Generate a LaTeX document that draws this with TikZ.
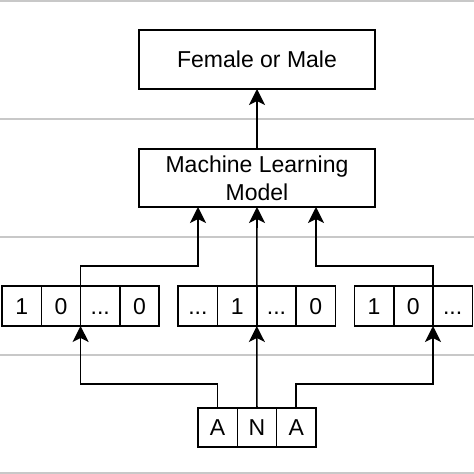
\documentclass[tikz,border=0pt]{standalone}
\usepackage{fontspec}
\setmainfont{Liberation Sans}
\usepackage{tikz}
\usetikzlibrary{arrows.meta, positioning, calc}
\definecolor{cRule}{RGB}{200,200,200}
\tikzset{
	blk/.style ={rectangle, draw=black, line width=1.6pt, minimum width=236pt, minimum height=58pt, align=center, outer sep=0pt, font=\fontsize{23}{28}\selectfont},
	cell/.style={rectangle, draw=black, line width=1.6pt, minimum width=39.3pt, minimum height=40pt, inner sep=0pt, outer sep=0pt, text height=16.5pt, text depth=0pt, font=\fontsize{23}{27}\selectfont},
	sig/.style ={-{Stealth[length=16pt, width=16pt, inset=4pt]}, line width=1.6pt},
	sepline/.style={draw=cRule, line width=1.3pt},
}
\begin{document}
\begin{tikzpicture}[x=1pt, y=1pt]
	\useasboundingbox (0,0) rectangle (474,474);
	% light rules behind the diagram
	\foreach \yy in {473,355,237,119,1} \draw[sepline] (0,\yy) -- (474,\yy);
	% output and model
	\node[blk, minimum height=59pt] (out) at (257,414.5) {Female or Male};
	\node[blk] (ml) at (257,296) {Machine Learning\\ Model};
	% one-hot vectors
	\node[cell] (l1) at (21.65,168) {1};
	\node[cell, right=0pt of l1] (l2) {0};
	\node[cell, right=0pt of l2] (l3) {...};
	\node[cell, right=0pt of l3] (l4) {0};
	\node[cell, right=19pt of l4] (m1) {...};
	\node[cell, right=0pt of m1] (m2) {1};
	\node[cell, right=0pt of m2] (m3) {...};
	\node[cell, right=0pt of m3] (m4) {0};
	\node[cell, right=19pt of m4] (r1) {1};
	\node[cell, right=0pt of r1] (r2) {0};
	\node[cell, right=0pt of r2] (r3) {...};
	% input word
	\node[cell, minimum height=39pt] (a1) at (217.65,46.5) {A};
	\node[cell, minimum height=39pt, right=0pt of a1] (a2) {N};
	\node[cell, minimum height=39pt, right=0pt of a2] (a3) {A};
	% connectors
	\draw[sig] (ml) -- (out);
	\draw[sig] (l2.north east) -- ++(0,20) -| ($(ml.south west)!0.25!(ml.south east)$);
	\draw[sig] (m2.north east) -- (ml.south);
	\draw[sig] (r2.north east) -- ++(0,20) -| ($(ml.south west)!0.75!(ml.south east)$);
	\draw[sig] (a1.north) -- ++(0,24) -| (l2.south east);
	\draw[sig] (a2.north) -- (m2.south east);
	\draw[sig] (a3.north) -- ++(0,24) -| (r2.south east);
\end{tikzpicture}
\end{document}
